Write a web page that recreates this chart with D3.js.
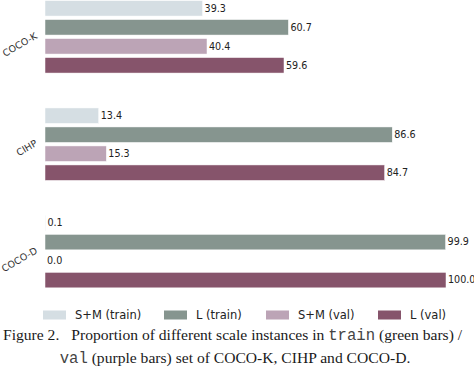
<!DOCTYPE html>
<html>
<head>
<meta charset="utf-8">
<script src="https://cdn.jsdelivr.net/npm/d3@7"></script>
<style>
  html, body { margin: 0; padding: 0; background: #fff; }
  svg { display: block; }
</style>
</head>
<body>
<svg id="chart" width="474" height="371"></svg>
<script>
const datasets = ['COCO-K', 'CIHP', 'COCO-D'];
const seriesNames = ['S+M (train)', 'L (train)', 'S+M (val)', 'L (val)'];
const smTrain = [39.3, 13.4, 0.1];
const lTrain = [60.7, 86.6, 99.9];
const smVal = [40.4, 15.3, 0.0];
const lVal = [59.6, 84.7, 100.0];
const seriesValues = [smTrain, lTrain, smVal, lVal];

const svg = d3.select('#chart');

const colour = d3.scaleOrdinal()
    .domain(seriesNames)
    .range(['#d5dee3', '#86958f', '#bca4b6', '#86546b']);

const x = d3.scaleLinear().domain([0, 100]).range([45, 446]);

// group bands, then bars inside each group
const y0 = d3.scaleBand()
    .domain(datasets)
    .range([-1.2, 289.6])
    .paddingInner(0.2924)
    .paddingOuter(0);

const y1 = d3.scaleBand()
    .domain(seriesNames)
    .range([0, y0.bandwidth()])
    .padding(0.184)
    .paddingOuter(0.092);

const rows = [];
datasets.forEach((ds, i) => {
    seriesNames.forEach((s, j) => {
        rows.push({ ds, s, v: seriesValues[j][i] });
    });
});

const bars = svg.append('g').attr('id', 'bars');

bars.selectAll('rect')
    .data(rows)
    .join('rect')
    .attr('x', x(0))
    .attr('y', d => y0(d.ds) + y1(d.s))
    .attr('width', d => x(d.v) - x(0))
    .attr('height', y1.bandwidth())
    .style('fill', d => colour(d.s))
    .style('stroke', '#fff')
    .style('stroke-width', 0.5);

bars.selectAll('text')
    .data(rows)
    .join('text')
    .text(d => d.v.toFixed(1))
    .attr('x', d => x(d.v) + 2)
    .attr('y', d => y0(d.ds) + y1(d.s) + y1.bandwidth() / 2)
    .attr('dy', '0.35em')
    .style('font-family', 'DejaVu Sans')
    .style('font-size', '9.6px')
    .style('fill', '#222');

// category labels, rotated
svg.append('g')
    .selectAll('text')
    .data(datasets)
    .join('text')
    .text(d => d)
    .attr('transform', d => `translate(38, ${y0(d) + y0.bandwidth() / 2 + 1}) rotate(-30)`)
    .style('text-anchor', 'end')
    .style('font-family', 'DejaVu Sans')
    .style('font-size', '9.5px')
    .style('fill', '#333');

// legend
const legendX = [43, 164, 266, 378];
const legend = svg.append('g').attr('id', 'legend');
const items = legend.selectAll('g')
    .data(seriesNames)
    .join('g')
    .attr('transform', (_d, i) => `translate(${legendX[i]}, 315)`);

items.append('rect')
    .attr('x', 0)
    .attr('y', -4.5)
    .attr('width', 23)
    .attr('height', 9)
    .style('fill', d => colour(d));

items.append('text')
    .text(d => d)
    .attr('x', 32)
    .attr('dy', '0.35em')
    .style('font-family', 'DejaVu Sans')
    .style('font-size', '11.5px')
    .style('fill', '#222');

// caption
const cap = svg.append('g')
    .style('font-family', 'Liberation Serif')
    .style('font-size', '15.6px')
    .style('fill', '#1a1a1a');

const line1 = cap.append('text').attr('x', 3).attr('y', 340);
line1.append('tspan').text('Figure 2.');
line1.append('tspan').attr('dx', 12).text('Proportion of different scale instances in ');
line1.append('tspan').style('font-family', 'Liberation Mono').style('fill', '#444').text('train');
line1.append('tspan').text(' (green bars) /');

const line2 = cap.append('text').attr('x', 235).attr('y', 363).style('text-anchor', 'middle');
line2.append('tspan').style('font-family', 'Liberation Mono').style('fill', '#444').text('val');
line2.append('tspan').text(' (purple bars) set of COCO-K, CIHP and COCO-D.');
</script>
</body>
</html>
